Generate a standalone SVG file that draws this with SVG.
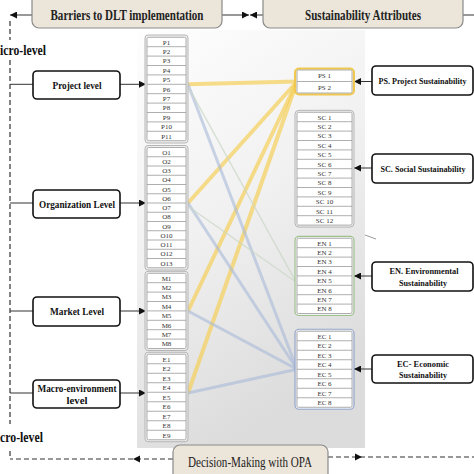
<svg xmlns="http://www.w3.org/2000/svg" width="474" height="474" viewBox="0 0 474 474">
<defs>
<style>
.hdr{fill:#ece5d9;stroke:#8a8a8a;stroke-width:1.2}
.ht{font-family:"Liberation Serif",serif;font-weight:bold;font-size:14px;fill:#222;text-anchor:middle}
.lvl{fill:#fff;stroke:#111;stroke-width:1.6}
.lt{font-family:"Liberation Serif",serif;font-weight:bold;font-size:11px;fill:#111;text-anchor:middle}
.rlt{font-family:"Liberation Serif",serif;font-weight:bold;font-size:8.5px;fill:#111;text-anchor:middle}
.side{font-family:"Liberation Serif",serif;font-weight:bold;font-size:14px;fill:#111}
.cont{fill:#efefef;stroke:#b5b5b5;stroke-width:1}
.rows{fill:#fff;stroke:#9a9a9a;stroke-width:0.8}
.sep{stroke:#9a9a9a;stroke-width:0.8;fill:none}
.rt{font-family:"Liberation Serif",serif;font-size:7px;fill:#333;text-anchor:middle}
.ln{stroke:#333;stroke-width:1;fill:none}
.dash{stroke:#333;stroke-width:1.2;stroke-dasharray:5,3;fill:none}
.yel{stroke:#f5d05a;stroke-width:4;stroke-opacity:0.7;fill:none}
.blu{stroke:#a9b9d9;stroke-width:3;stroke-opacity:0.6;fill:none}
.fnt{stroke:#c9d6c4;stroke-width:1.5;stroke-opacity:0.7;fill:none}
</style>
<marker id="ah" viewBox="0 0 10 10" refX="10" refY="5" markerWidth="7" markerHeight="7" markerUnits="userSpaceOnUse" orient="auto"><path d="M0,0 L10,5 L0,10 z" fill="#111"/></marker>
<linearGradient id="pg" x1="0" y1="0" x2="0.35" y2="1">
<stop offset="0" stop-color="#fefefe"/>
<stop offset="0.5" stop-color="#f1f1f1"/>
<stop offset="1" stop-color="#dcdcdc"/>
</linearGradient>
</defs>
<rect width="474" height="474" fill="#fff"/>
<rect x="137" y="30" width="228" height="418" fill="url(#pg)"/>

<g id="connectors">
<line class="yel" x1="188" y1="84.3" x2="297" y2="81.5"/>
<line class="yel" x1="188" y1="203" x2="297" y2="81.5"/>
<line class="yel" x1="188" y1="311" x2="297" y2="81.5"/>
<line class="yel" x1="188" y1="393" x2="297" y2="81.5"/>
<line class="blu" x1="188" y1="84.3" x2="297" y2="369.25"/>
<line class="blu" x1="188" y1="203" x2="297" y2="369.25"/>
<line class="blu" x1="188" y1="311" x2="297" y2="369.25"/>
<line class="blu" x1="188" y1="393" x2="297" y2="369.25"/>
<line class="fnt" x1="189" y1="88" x2="296" y2="282"/>
<line class="fnt" x1="189" y1="207" x2="296" y2="282"/>
<line x1="365" y1="235" x2="376" y2="239" stroke="#999" stroke-width="1"/>
<line class="ln" x1="32" y1="15" x2="10" y2="15" marker-end="url(#ah)"/>
<line class="dash" x1="10" y1="21" x2="10" y2="40"/>
<line class="dash" x1="10" y1="60" x2="10" y2="424"/>
<line class="dash" x1="10" y1="451" x2="10" y2="459"/>
<line class="dash" x1="173" y1="459" x2="10" y2="459"/>
<path d="M140,455.5 L133,459 L140,462.5 z" fill="#111"/>
<line class="dash" x1="328" y1="457" x2="474" y2="457"/>
<path d="M355,453.5 L362,457 L355,460.5 z" fill="#111"/>
<line class="ln" x1="222" y1="15" x2="249" y2="15" marker-end="url(#ah)"/>
<line class="ln" x1="263" y1="15" x2="250" y2="15" marker-end="url(#ah)"/>
<line class="ln" x1="463" y1="15" x2="474" y2="15"/>
<line class="ln" x1="10" y1="84.3" x2="33" y2="84.3"/>
<line class="ln" x1="10" y1="203" x2="33" y2="203"/>
<line class="ln" x1="10" y1="311" x2="33" y2="311"/>
<line class="ln" x1="10" y1="393" x2="33" y2="393"/>
<line class="ln" x1="120" y1="84.3" x2="146" y2="84.3" marker-end="url(#ah)"/>
<line class="ln" x1="120" y1="203" x2="146" y2="203" marker-end="url(#ah)"/>
<line class="ln" x1="120" y1="311" x2="146" y2="311" marker-end="url(#ah)"/>
<line class="ln" x1="120" y1="393" x2="146" y2="393" marker-end="url(#ah)"/>
<line class="ln" x1="372" y1="81.5" x2="354" y2="81.5" marker-end="url(#ah)"/>
<line class="ln" x1="372" y1="168" x2="354" y2="168" marker-end="url(#ah)"/>
<line class="ln" x1="372" y1="276" x2="354" y2="276" marker-end="url(#ah)"/>
<line class="ln" x1="372" y1="369" x2="354" y2="369" marker-end="url(#ah)"/>
</g>

<text class="side" x="-11" y="55" textLength="57" lengthAdjust="spacingAndGlyphs">Micro-level</text>
<text class="side" x="-17" y="442" textLength="60" lengthAdjust="spacingAndGlyphs">Macro-level</text>

<g id="barriers">
<rect class="hdr" x="32" y="-8" width="190" height="36" rx="7"/>
<text class="ht" x="127" y="20" textLength="153" lengthAdjust="spacingAndGlyphs">Barriers to DLT implementation</text>
</g>
<g id="sustainability">
<rect class="hdr" x="263" y="-8" width="200" height="36" rx="7"/>
<text class="ht" x="363" y="20" textLength="116" lengthAdjust="spacingAndGlyphs">Sustainability Attributes</text>
</g>
<g id="decision">
<rect class="hdr" x="173" y="445" width="155" height="40" rx="7"/>
<text x="250" y="467" font-family="Liberation Serif, serif" font-size="14px" fill="#222" text-anchor="middle" textLength="124" lengthAdjust="spacingAndGlyphs">Decision-Making with OPA</text>
</g>

<g id="project-level">
<rect class="lvl" x="33" y="71" width="87" height="28" rx="4"/>
<text class="lt" x="77" y="88.5" textLength="49" lengthAdjust="spacingAndGlyphs">Project level</text>
</g>
<g id="organization-level">
<rect class="lvl" x="33" y="190" width="87" height="28" rx="4"/>
<text class="lt" x="77" y="207.5" textLength="76" lengthAdjust="spacingAndGlyphs">Organization Level</text>
</g>
<g id="market-level">
<rect class="lvl" x="33" y="297" width="87" height="29" rx="4"/>
<text class="lt" x="77" y="315" textLength="54" lengthAdjust="spacingAndGlyphs">Market Level</text>
</g>
<g id="macro-level">
<rect class="lvl" x="33" y="380" width="87" height="28" rx="4"/>
<text class="lt" x="77" y="392" textLength="79" lengthAdjust="spacingAndGlyphs">Macro-environment</text>
<text class="lt" x="77" y="403.5" textLength="21" lengthAdjust="spacingAndGlyphs">level</text>
</g>

<g id="ps-attr">
<rect class="lvl" x="372" y="66" width="101" height="29" rx="4"/>
<text class="rlt" x="422.5" y="84" textLength="88" lengthAdjust="spacingAndGlyphs">PS. Project Sustainability</text>
</g>
<g id="sc-attr">
<rect class="lvl" x="372" y="154" width="101" height="29" rx="4"/>
<text class="rlt" x="423" y="171.5" textLength="85" lengthAdjust="spacingAndGlyphs">SC. Social Sustainability</text>
</g>
<g id="en-attr">
<rect class="lvl" x="372" y="262" width="101" height="29" rx="4"/>
<text class="rlt" x="424" y="274" textLength="69" lengthAdjust="spacingAndGlyphs">EN. Environmental</text>
<text class="rlt" x="423" y="285.5" textLength="48" lengthAdjust="spacingAndGlyphs">Sustainability</text>
</g>
<g id="ec-attr">
<rect class="lvl" x="372" y="355" width="101" height="28" rx="4"/>
<text class="rlt" x="423" y="366.5" textLength="52" lengthAdjust="spacingAndGlyphs">EC- Economic</text>
<text class="rlt" x="423" y="378" textLength="48" lengthAdjust="spacingAndGlyphs">Sustainability</text>
</g>

<g id="p-list">
<rect class="cont" x="145" y="35" width="43" height="108" rx="3"/>
<rect class="rows" x="147" y="37.3" width="39" height="103.4" rx="1.5"/>
<path class="sep" d="M147,46.7H186M147,56.1H186M147,65.5H186M147,74.9H186M147,84.3H186M147,93.7H186M147,103.1H186M147,112.5H186M147,121.9H186M147,131.3H186"/>
<text class="rt" x="166.5" y="44.5">P1</text><text class="rt" x="166.5" y="53.9">P2</text><text class="rt" x="166.5" y="63.3">P3</text><text class="rt" x="166.5" y="72.7">P4</text><text class="rt" x="166.5" y="82.1">P5</text><text class="rt" x="166.5" y="91.5">P6</text><text class="rt" x="166.5" y="100.9">P7</text><text class="rt" x="166.5" y="110.3">P8</text><text class="rt" x="166.5" y="119.7">P9</text><text class="rt" x="166.5" y="129.1">P10</text><text class="rt" x="166.5" y="138.5">P11</text>
</g>
<g id="o-list">
<rect class="cont" x="145" y="145.5" width="43" height="124.5" rx="3"/>
<rect class="rows" x="147" y="147.5" width="39" height="120.25" rx="1.5"/>
<path class="sep" d="M147,156.75H186M147,166H186M147,175.25H186M147,184.5H186M147,193.75H186M147,203H186M147,212.25H186M147,221.5H186M147,230.75H186M147,240H186M147,249.25H186M147,258.5H186"/>
<text class="rt" x="166.5" y="154.6">O1</text><text class="rt" x="166.5" y="163.9">O2</text><text class="rt" x="166.5" y="173.1">O3</text><text class="rt" x="166.5" y="182.4">O4</text><text class="rt" x="166.5" y="191.6">O5</text><text class="rt" x="166.5" y="200.9">O6</text><text class="rt" x="166.5" y="210.1">O7</text><text class="rt" x="166.5" y="219.4">O8</text><text class="rt" x="166.5" y="228.6">O9</text><text class="rt" x="166.5" y="237.9">O10</text><text class="rt" x="166.5" y="247.1">O11</text><text class="rt" x="166.5" y="256.4">O12</text><text class="rt" x="166.5" y="265.6">O13</text>
</g>
<g id="m-list">
<rect class="cont" x="145" y="271.3" width="43" height="79.2" rx="3"/>
<rect class="rows" x="147" y="273.3" width="39" height="75.2" rx="1.5"/>
<path class="sep" d="M147,282.7H186M147,292.1H186M147,301.5H186M147,310.9H186M147,320.3H186M147,329.7H186M147,339.1H186"/>
<text class="rt" x="166.5" y="280.5">M1</text><text class="rt" x="166.5" y="289.9">M2</text><text class="rt" x="166.5" y="299.3">M3</text><text class="rt" x="166.5" y="308.7">M4</text><text class="rt" x="166.5" y="318.1">M5</text><text class="rt" x="166.5" y="327.5">M6</text><text class="rt" x="166.5" y="336.9">M7</text><text class="rt" x="166.5" y="346.3">M8</text>
</g>
<g id="e-list">
<rect class="cont" x="145" y="352.25" width="43" height="89.5" rx="3"/>
<rect class="rows" x="147" y="354.25" width="39" height="85.5" rx="1.5"/>
<path class="sep" d="M147,363.75H186M147,373.25H186M147,382.75H186M147,392.25H186M147,401.75H186M147,411.25H186M147,420.75H186M147,430.25H186"/>
<text class="rt" x="166.5" y="361.5">E1</text><text class="rt" x="166.5" y="371">E2</text><text class="rt" x="166.5" y="380.5">E3</text><text class="rt" x="166.5" y="390">E4</text><text class="rt" x="166.5" y="399.5">E5</text><text class="rt" x="166.5" y="409">E6</text><text class="rt" x="166.5" y="418.5">E7</text><text class="rt" x="166.5" y="428">E8</text><text class="rt" x="166.5" y="437.5">E9</text>
</g>

<g id="ps-list">
<rect x="295" y="68.5" width="59" height="26" rx="4" fill="#fbf1cf" stroke="#f0c850" stroke-width="2"/>
<rect class="rows" x="297" y="70" width="55" height="23" rx="1.5"/>
<path class="sep" d="M297,81.5H352"/>
<text class="rt" x="324.5" y="78.2">PS 1</text><text class="rt" x="324.5" y="89.7">PS 2</text>
</g>
<g id="sc-list">
<rect class="cont" x="295" y="110.3" width="59" height="116.8" rx="4"/>
<rect class="rows" x="297" y="112.3" width="55" height="112.8" rx="1.5"/>
<path class="sep" d="M297,121.7H352M297,131.1H352M297,140.5H352M297,149.9H352M297,159.3H352M297,168.7H352M297,178.1H352M297,187.5H352M297,196.9H352M297,206.3H352M297,215.7H352"/>
<text class="rt" x="324.5" y="119.5">SC 1</text><text class="rt" x="324.5" y="128.9">SC 2</text><text class="rt" x="324.5" y="138.3">SC 3</text><text class="rt" x="324.5" y="147.7">SC 4</text><text class="rt" x="324.5" y="157.1">SC 5</text><text class="rt" x="324.5" y="166.5">SC 6</text><text class="rt" x="324.5" y="175.9">SC 7</text><text class="rt" x="324.5" y="185.3">SC 8</text><text class="rt" x="324.5" y="194.7">SC 9</text><text class="rt" x="324.5" y="204.1">SC 10</text><text class="rt" x="324.5" y="213.5">SC 11</text><text class="rt" x="324.5" y="222.9">SC 12</text>
</g>
<g id="en-list">
<rect x="295" y="236.3" width="59" height="79.2" rx="4" fill="#f0f4ee" stroke="#9fc08f" stroke-width="1.2"/>
<rect class="rows" x="297" y="238.3" width="55" height="75.2" rx="1.5"/>
<path class="sep" d="M297,247.7H352M297,257.1H352M297,266.5H352M297,275.9H352M297,285.3H352M297,294.7H352M297,304.1H352"/>
<text class="rt" x="324.5" y="245.5">EN 1</text><text class="rt" x="324.5" y="254.9">EN 2</text><text class="rt" x="324.5" y="264.3">EN 3</text><text class="rt" x="324.5" y="273.7">EN 4</text><text class="rt" x="324.5" y="283.1">EN 5</text><text class="rt" x="324.5" y="292.5">EN 6</text><text class="rt" x="324.5" y="301.9">EN 7</text><text class="rt" x="324.5" y="311.3">EN 8</text>
</g>
<g id="ec-list">
<rect x="295" y="329.25" width="59" height="80" rx="4" fill="#eef1f7" stroke="#95a6c8" stroke-width="1.2"/>
<rect class="rows" x="297" y="331.25" width="55" height="76" rx="1.5"/>
<path class="sep" d="M297,340.75H352M297,350.25H352M297,359.75H352M297,369.25H352M297,378.75H352M297,388.25H352M297,397.75H352"/>
<text class="rt" x="324.5" y="338.5">EC 1</text><text class="rt" x="324.5" y="348">EC 2</text><text class="rt" x="324.5" y="357.5">EC 3</text><text class="rt" x="324.5" y="367">EC 4</text><text class="rt" x="324.5" y="376.5">EC 5</text><text class="rt" x="324.5" y="386">EC 6</text><text class="rt" x="324.5" y="395.5">EC 7</text><text class="rt" x="324.5" y="405">EC 8</text>
</g>
</svg>
